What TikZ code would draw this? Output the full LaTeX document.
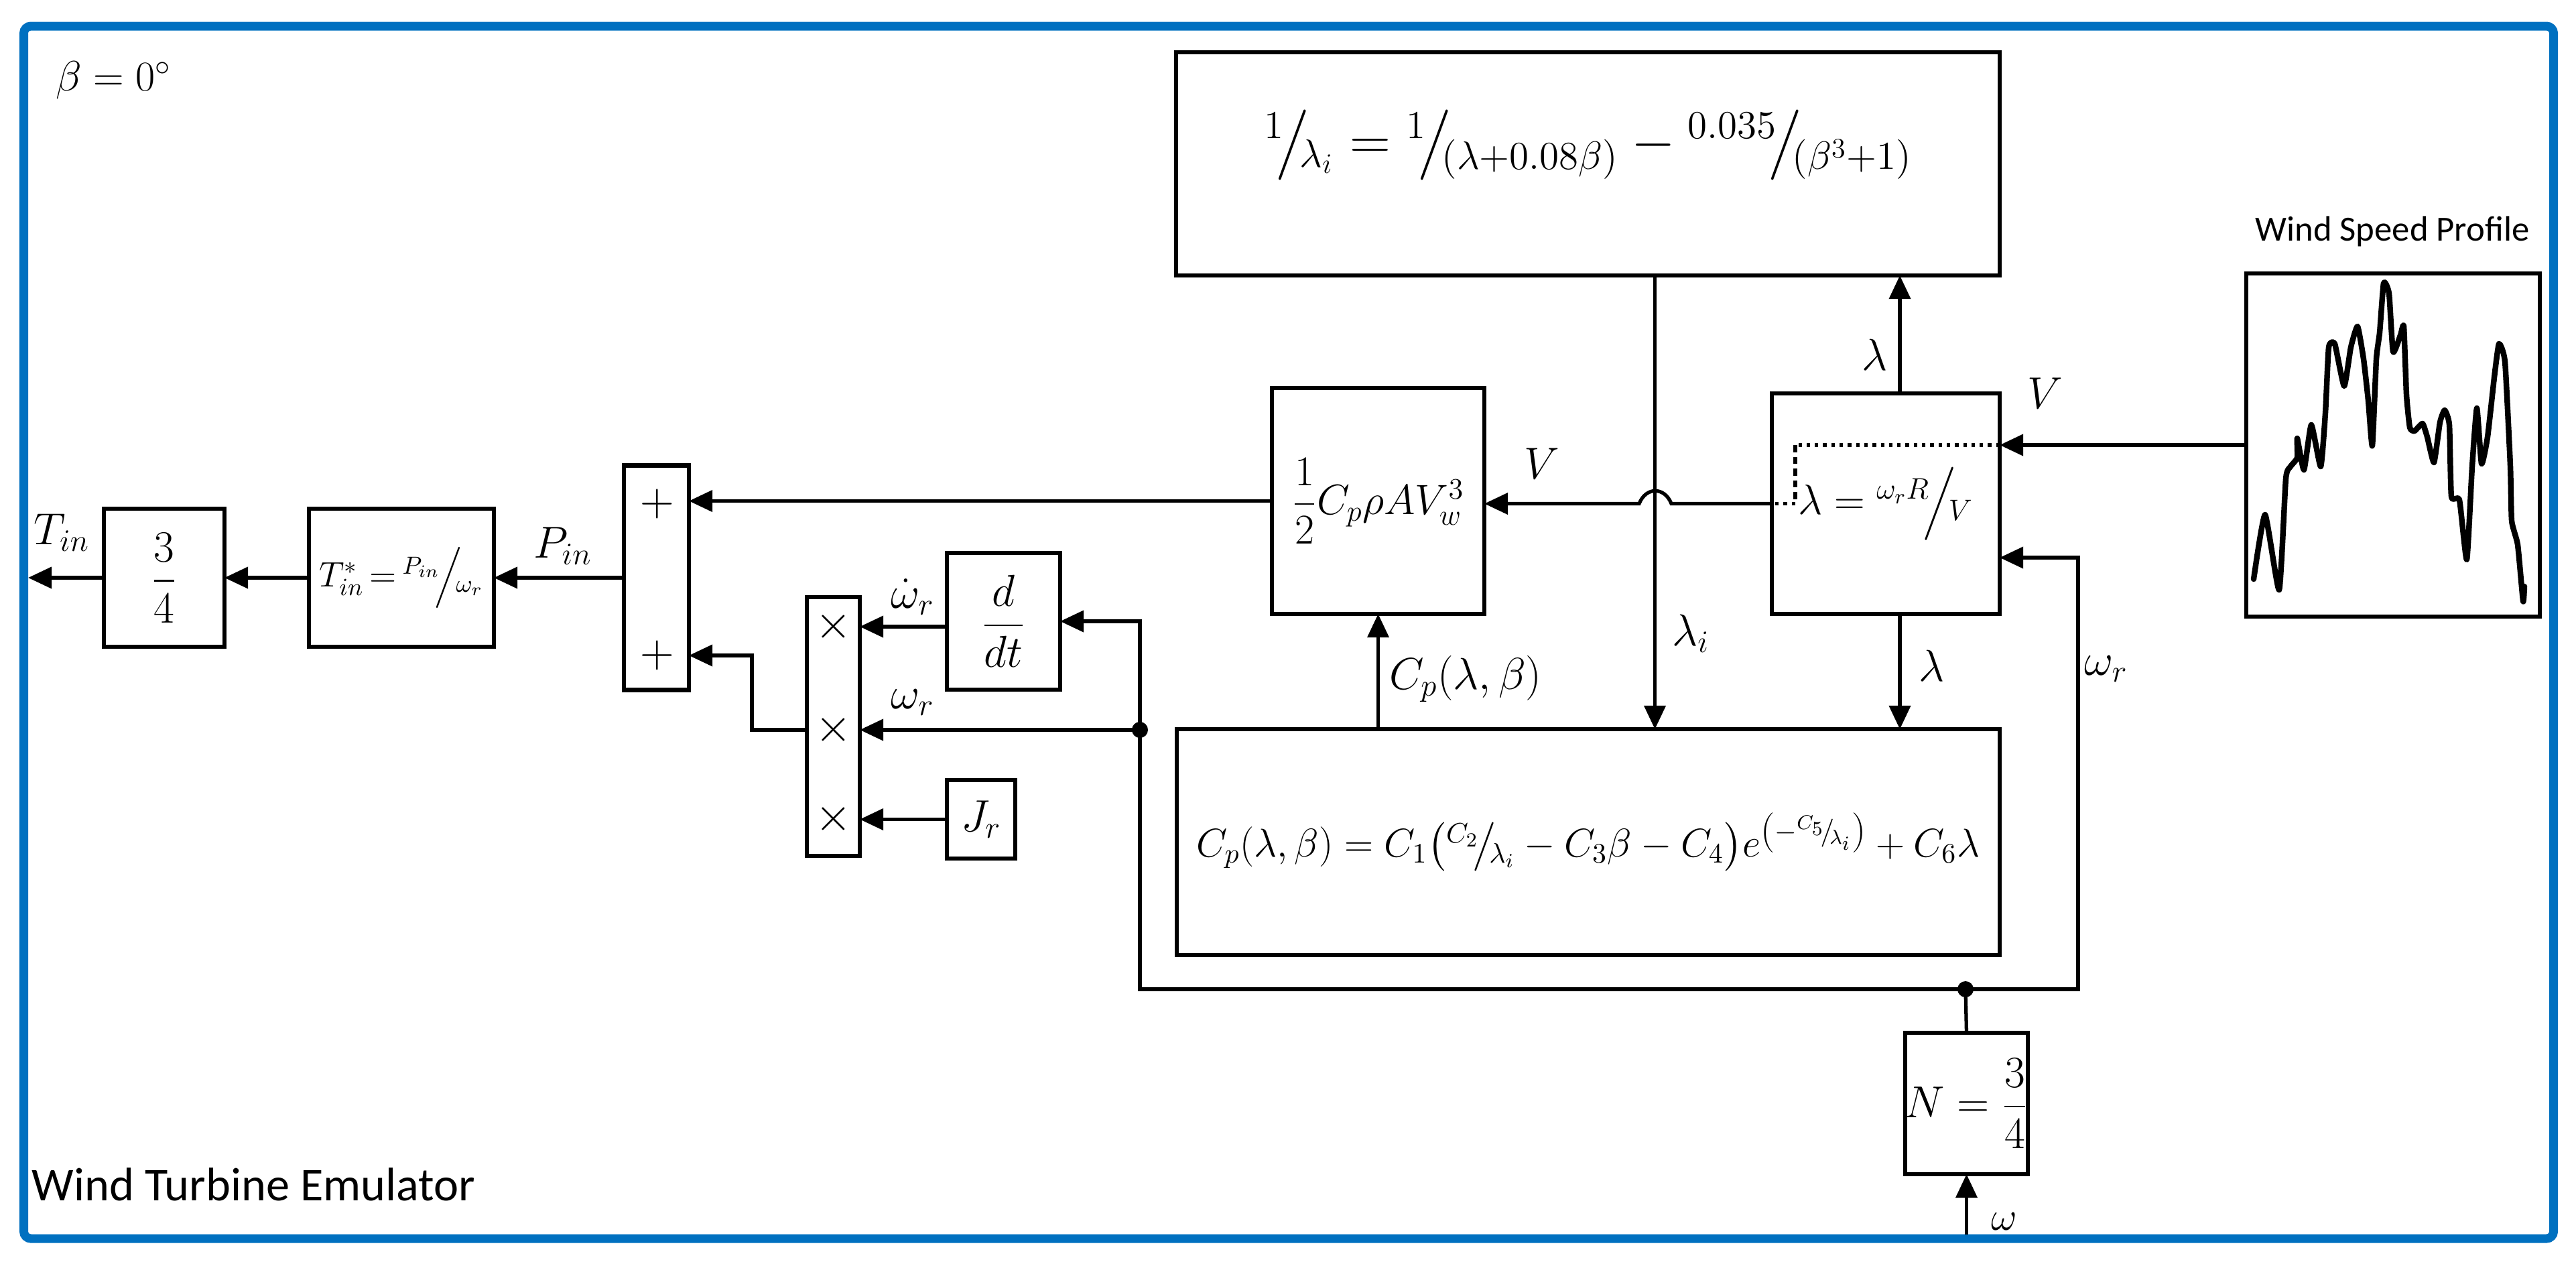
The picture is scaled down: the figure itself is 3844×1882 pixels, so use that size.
\RequirePackage{fix-cm}
\documentclass[tikz,border=0pt]{standalone}
\usepackage{amsmath}
\usepackage{fontspec}
\newfontfamily\labelfont{Carlito}
\usepackage{tikz}
\usetikzlibrary{arrows.meta,positioning}

\definecolor{frameblue}{RGB}{0,112,192}
% slanted fraction as in the block formulas
\newcommand{\skfrac}[3][\big]{{}^{#2}\!#1/\!{}_{#3}}

\begin{document}
\begin{tikzpicture}[x=0.1mm, y=-0.1mm,
    blk/.style={draw, line width=1.8pt, inner sep=0pt, outer sep=0pt, font=\fontsize{19}{22}\selectfont},
    lbl/.style={inner sep=0pt, font=\fontsize{19}{22}\selectfont},
    wire/.style={line width=1.5pt},
    arr/.style={line width=1.5pt, -{Triangle[length=10pt,width=9pt]}},
    jdot/.style={circle, fill, inner sep=0pt, minimum size=2.4mm}]
  \useasboundingbox (0,0) rectangle (3844,1882);
  \draw[line width=3.7pt, draw=frameblue, rounded corners=3pt] (35.5,39) rectangle (3810.5,1848);

  \node[lbl, anchor=west, font=\fontsize{18}{22}\selectfont] (beta) at (83,120) {$\beta = 0^{\circ}$};

  % upper right blocks
  \node[blk, minimum width=122.9mm, minimum height=33.3mm] (lami) at (2369.5,244.5) {};
  \node[lbl, font=\fontsize{24}{28}\selectfont] (lamieq) at (2370,216)
    {$\skfrac{1}{\lambda_i} = \skfrac{1}{(\lambda+0.08\beta)} - \skfrac{0.035}{(\beta^3+1)}$};
  \node[blk, minimum width=31.7mm, minimum height=33.7mm, font=\fontsize{18}{22}\selectfont] (pw) at (2056.5,747.5)
    {$\dfrac{1}{2}C_p\rho A V_w^3$};
  \node[blk, minimum width=34mm, minimum height=32.9mm, font=\fontsize{18}{22}\selectfont] (lam) at (2814,751.5)
    {$\lambda = \skfrac[\Big]{\omega_r R}{V}$};
  \node[blk, minimum width=122.8mm, minimum height=33.7mm, font=\fontsize{17}{21}\selectfont] (cp) at (2370,1256.5)
    {$C_p(\lambda,\beta) = C_1\!\left(\skfrac{C_2}{\lambda_i} - C_3\beta - C_4\right)\!e^{\left(-\skfrac[]{C_5}{\lambda_i}\right)} + C_6\lambda$};
  \node[blk, minimum width=18.1mm, minimum height=21.1mm] (nb) at (2934.5,1646.5) {$N = \dfrac{3}{4}$};

  % wind speed profile
  \node[blk, minimum width=43.8mm, minimum height=51.2mm] (prof) at (3571,664) {};
  \node[lbl, font=\labelfont\fontsize{15}{18}\selectfont, anchor=base] (proftitle) at (3570,359) {Wind Speed Profile};
  \draw[line width=2.4pt, line join=round, line cap=round] plot[smooth, tension=0.3] coordinates {
    (3363,864) (3380,768) (3401,880) (3411,714) (3418,696) (3428,683) (3428,654) (3438,701)
    (3449,634) (3463,696) (3470,616) (3475,518) (3484,513) (3498,576) (3508,518) (3518,487)
    (3527,536) (3534,598) (3540,665) (3546,536) (3551,496) (3557,422) (3565,438) (3571,525)
    (3582,500) (3587,487) (3591,589) (3596,638) (3603,643) (3615,632) (3622,652) (3632,690)
    (3641,630) (3648,612) (3655,634) (3658,741) (3670,746) (3681,835) (3689,696) (3696,609)
    (3703,692) (3712,652) (3722,563) (3729,513) (3738,540) (3746,696) (3748,777) (3757,813)
    (3765,897) (3767,875)};

  % left blocks
  \node[blk, minimum width=9.7mm, minimum height=33.5mm] (sum) at (979.5,862) {};
  \node[lbl, font=\fontsize{20}{24}\selectfont] (p1) at (981,752) {$+$};
  \node[lbl, font=\fontsize{20}{24}\selectfont] (p2) at (981,978) {$+$};
  \node[blk, minimum width=7.9mm, minimum height=38.6mm] (mult) at (1243.5,1084) {};
  \node[lbl, font=\fontsize{20}{24}\selectfont] (m1) at (1244,935) {$\times$};
  \node[lbl, font=\fontsize{20}{24}\selectfont] (m2) at (1244,1089) {$\times$};
  \node[lbl, font=\fontsize{20}{24}\selectfont] (m3) at (1244,1222) {$\times$};
  \node[blk, minimum width=16.9mm, minimum height=20.4mm] (ddt) at (1497.5,927) {$\dfrac{d}{dt}$};
  \node[blk, minimum width=10.2mm, minimum height=11.7mm] (jr) at (1464,1222.5) {$J_r$};
  \node[blk, minimum width=27.6mm, minimum height=20.6mm, font=\fontsize{15}{19}\selectfont] (tst) at (599,862)
    {$T_{in}^{*}\,{=}\,\skfrac[\Big]{P_{in}}{\omega_r}$};
  \node[blk, minimum width=18mm, minimum height=20.6mm] (tq) at (245,862) {$\dfrac{3}{4}$};

  \node[jdot] (j1) at (1701,1089) {};
  \node[jdot] (j2) at (2933,1476) {};
  \coordinate (tout) at (42,862);
  \coordinate (wbot) at (2934.5,1842);
  \coordinate (wrin) at (2984,832);
  \coordinate (fb) at (3101,1476);
  \coordinate (vk) at (2679,664);

  % connectors
  \draw[arr] (prof.west) -- (prof.west -| lam.east);
  \draw[wire, dotted] (prof.west -| lam.east) -- (vk);
  \draw[wire, densely dashed] (vk) -- (vk |- lam.west);
  \draw[wire, dotted] (vk |- lam.west) -- (lam.west);
  \draw[arr] (lam.west) -- (2494,751.5) .. controls (2484,726) and (2456,726) .. (2446,751.5) -- (lam.west -| pw.east);
  \draw[arr] (pw.west) -- (pw.west -| sum.east);
  \draw[arr] (sum.west) -- (tst.east);
  \draw[arr] (tst.west) -- (tq.east);
  \draw[arr] (tq.west) -- (tout);
  \draw[arr] (mult.west |- m2) -- ++(-82,0) |- (sum.east |- p2);
  \draw[arr] (ddt.west |- m1) -- (mult.east |- m1);
  \draw[arr] (j1.center) -- (mult.east |- m2);
  \draw[arr] (j1.center) |- (ddt.east);
  \draw[arr] (jr.west) -- (jr.west -| mult.east);
  \draw[arr] (j1.center) |- (fb) |- (wrin);
  \draw[wire] (nb.north) -- (j2.center);
  \draw[arr] (wbot) -- (nb.south);
  \draw[arr] ([xshift=10mm]lami.south) -- ([xshift=10mm]lami.south |- cp.north);
  \draw[arr] ([xshift=2.1mm]lam.north) -- ([xshift=2.1mm]lam.north |- lami.south);
  \draw[arr] ([xshift=2.1mm]lam.south) -- ([xshift=2.1mm]lam.south |- cp.north);
  \draw[arr] (cp.north -| pw.south) -- (pw.south);

  % signal labels
  \node[lbl] (lv1) at (2301,692) {$V$};
  \node[lbl] (lv2) at (3052,587) {$V$};
  \node[lbl] (llam1) at (2798,529) {$\lambda$};
  \node[lbl] (llam2) at (2883,993) {$\lambda$};
  \node[lbl] (llami) at (2523,945) {$\lambda_i$};
  \node[lbl] (lcp) at (2187,1013) {$C_p(\lambda,\beta)$};
  \node[lbl] (lwr1) at (3143,998) {$\omega_r$};
  \node[lbl, font=\fontsize{17}{20}\selectfont] (lw) at (2991,1823) {$\omega$};
  \node[lbl] (lwd) at (1362,891) {$\dot{\omega}_r$};
  \node[lbl] (lwr2) at (1362,1048) {$\omega_r$};
  \node[lbl] (lp) at (840,815) {$P_{in}$};
  \node[lbl, anchor=west] (lt) at (50,795) {$T_{in}$};

  \node[lbl, font=\labelfont\fontsize{20}{24}\selectfont, anchor=base west] (title) at (47,1791) {Wind Turbine Emulator};
\end{tikzpicture}
\end{document}
